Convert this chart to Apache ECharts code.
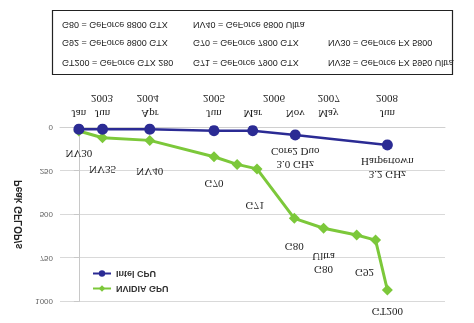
<!DOCTYPE html>
<html>
<head>
<meta charset="utf-8">
<title>Peak GFLOP/s</title>
<script src="https://cdn.jsdelivr.net/npm/echarts@6/dist/echarts.min.js"></script>
<style>
html, body { margin: 0; padding: 0; background: #fff; }
/* the reference picture is mirrored top to bottom, so the whole chart is flipped */
#chart { width: 474px; height: 323px; transform: scaleY(-1); }
</style>
</head>
<body>
<div id="chart"></div>
<script>
// x values are months counted from Jan 2003
var intelMonths = [0, 5, 15, 28.6, 36.8, 45.8, 65.3];
var intelGflops = [10, 10, 10, 18, 18, 43, 100];
var intelLabels = ['', '', '', '', '', '3.0 GHz\nCore2 Duo', '3.2 GHz\nHarpertown'];

var nvMonths = [0, 5, 15, 28.6, 33.5, 37.7, 45.6, 51.8, 58.8, 62.8, 65.3];
var nvGflops = [20, 59, 74, 168, 212, 238, 522, 579, 618, 647, 934];
var nvLabels = ['NV30', 'NV35', 'NV40', 'G70', '', 'G71', 'G80', 'G80\nUltra', '', 'G92', 'GT200'];

var monthTicks = [0, 5, 15, 28.6, 36.8, 45.8, 52.8, 65.3];
var monthNames = ['Jan', 'Jun', 'Apr', 'Jun', 'Mar', 'Nov', 'May', 'Jun'];
var yearTicks = [4.9, 14.6, 28.6, 41.3, 52.9, 65.2];
var yearNames = ['2003', '2004', '2005', '2006', '2007', '2008'];

var keyRows = [
  ['GT200 = GeForce GTX 280', 'G71 = GeForce 7900 GTX', 'NV35 = GeForce FX 5950 Ultra'],
  ['G92 = GeForce 9800 GTX', 'G70 = GeForce 7800 GTX', 'NV30 = GeForce FX 5800'],
  ['G80 = GeForce 8800 GTX', 'NV40 = GeForce 6800 Ultra', '']
];

// label nudges (style only)
var nvLabelShift = [[0, -5], [0, -14], [0, -14], [0, -9], [0, 0], [-2, -19], [0, -11], [0, -11], [0, 0], [-11, -15], [0, -4]];

var BLUE = '#2b2b94';
var GREEN = '#7cc83a';
var SERIF = '"Liberation Serif", "Times New Roman", serif';
var SANS = '"Liberation Sans", Arial, sans-serif';

function nearestName(ticks, names, v) {
  var best = 0;
  for (var i = 1; i < ticks.length; i++) {
    if (Math.abs(ticks[i] - v) < Math.abs(ticks[best] - v)) best = i;
  }
  return names[best];
}

var chart = echarts.init(document.getElementById('chart'));

// key box under the plot
var keyGraphics = [{
  type: 'rect',
  shape: { x: 52.5, y: 248.5, width: 400, height: 64 },
  style: { fill: '#fff', stroke: '#222', lineWidth: 1.2 }
}];
var colX = [62, 193, 328];
var rowY = [261, 281, 299];
keyRows.forEach(function (row, r) {
  row.forEach(function (txt, c) {
    if (!txt) return;
    keyGraphics.push({
      type: 'text',
      x: colX[c],
      y: rowY[r],
      style: { text: txt, fill: '#222', font: '9px ' + SANS, verticalAlign: 'middle' }
    });
  });
});

var option = {
  backgroundColor: '#fff',
  animation: false,
  grid: { left: 60, right: 29, top: 21.5, bottom: 127.5 },
  legend: {
    orient: 'vertical',
    left: 92,
    top: 30,
    padding: 0,
    itemWidth: 18,
    itemHeight: 8,
    itemGap: 6,
    textStyle: { fontFamily: SANS, fontSize: 9, fontWeight: 'bold', color: '#333' },
    data: ['NVIDIA GPU', 'Intel CPU']
  },
  xAxis: [{
    type: 'value',
    min: -4,
    max: 77.5,
    splitLine: { show: false },
    axisLine: { show: true, lineStyle: { color: '#d0d0d0' } },
    axisTick: { show: false },
    axisLabel: {
      customValues: monthTicks,
      margin: 9,
      fontFamily: SERIF,
      fontSize: 11,
      color: '#222',
      formatter: function (v) { return nearestName(monthTicks, monthNames, v); }
    }
  }, {
    type: 'value',
    position: 'bottom',
    min: -4,
    max: 77.5,
    splitLine: { show: false },
    axisLine: { show: false },
    axisTick: { show: false },
    axisLabel: {
      customValues: yearTicks,
      margin: 24,
      fontFamily: SERIF,
      fontSize: 11,
      color: '#222',
      formatter: function (v) { return nearestName(yearTicks, yearNames, v); }
    }
  }],
  yAxis: {
    type: 'value',
    min: 0,
    max: 1000,
    interval: 250,
    name: 'Peak GFLOP/s',
    nameLocation: 'middle',
    nameGap: 30,
    nameTextStyle: { fontFamily: SANS, fontSize: 10, fontWeight: 'bold', color: '#222' },
    axisLine: { show: true, lineStyle: { color: '#c8c8c8' } },
    axisTick: { show: true, length: 5, lineStyle: { color: '#c8c8c8' } },
    axisLabel: {
      fontFamily: SANS, fontSize: 8, color: '#666', margin: 7,
      formatter: function (v) { return String(v); }
    },
    splitLine: { lineStyle: { color: '#d9d9d9' } }
  },
  series: [{
    name: 'NVIDIA GPU',
    type: 'line',
    z: 2,
    symbol: 'diamond',
    symbolSize: 11,
    lineStyle: { color: GREEN, width: 3 },
    itemStyle: { color: GREEN },
    label: {
      show: true,
      position: 'top',
      distance: 5,
      fontFamily: SERIF,
      fontSize: 11,
      color: '#222',
      lineHeight: 13
    },
    data: nvMonths.map(function (m, i) {
      return {
        value: [m, nvGflops[i]],
        label: { show: !!nvLabels[i], formatter: nvLabels[i] || '', offset: nvLabelShift[i] }
      };
    })
  }, {
    name: 'Intel CPU',
    type: 'line',
    z: 3,
    symbol: 'circle',
    symbolSize: 11,
    lineStyle: { color: BLUE, width: 2.5 },
    itemStyle: { color: BLUE },
    label: {
      show: true,
      position: 'top',
      distance: 4,
      fontFamily: SERIF,
      fontSize: 11,
      color: '#222',
      lineHeight: 13
    },
    data: intelMonths.map(function (m, i) {
      return {
        value: [m, intelGflops[i]],
        label: { show: !!intelLabels[i], formatter: intelLabels[i] || '' }
      };
    })
  }],
  graphic: keyGraphics
};

chart.setOption(option);
window.addEventListener('resize', function () { chart.resize(); });
</script>
</body>
</html>
